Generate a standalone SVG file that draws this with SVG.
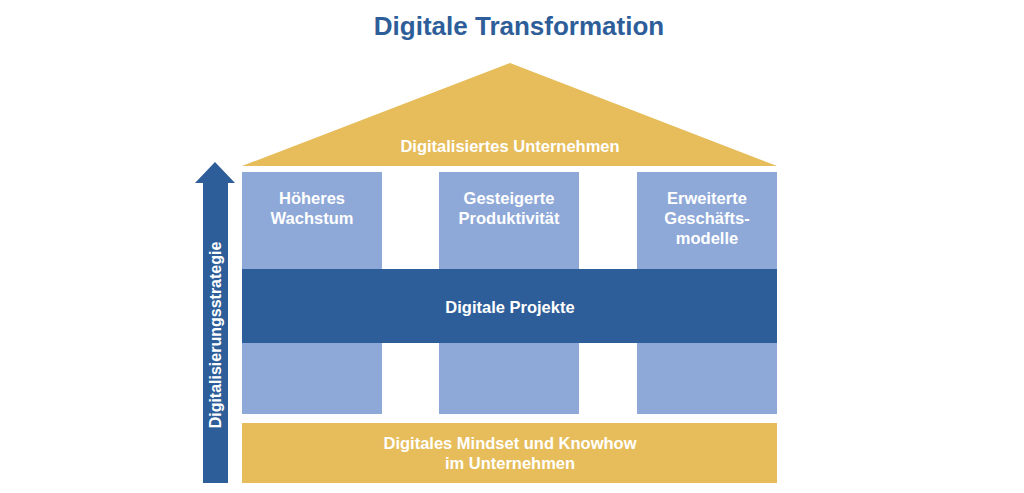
<svg xmlns="http://www.w3.org/2000/svg" width="1024" height="493" viewBox="0 0 1024 493">
<style>
.lbl{font-family:"Liberation Sans",Arial,sans-serif;font-weight:bold;font-size:16.5px;fill:#ffffff;text-anchor:middle}
.gold{fill:#e6bd5a}
.light{fill:#8ea8d8}
.dark{fill:#2e5e99}
</style>
<rect width="1024" height="493" fill="#ffffff"/>
<text x="519" y="35" font-family="Liberation Sans,Arial,sans-serif" font-weight="bold" font-size="26" fill="#2e5e99" text-anchor="middle">Digitale Transformation</text>
<g id="roof">
<polygon class="gold" points="510,63 777,166 242,166"/>
<text class="lbl" x="510" y="152">Digitalisiertes Unternehmen</text>
</g>
<g id="pillar-left">
<rect class="light" x="242" y="172" width="140" height="242"/>
<text class="lbl" x="312" y="204">Höheres</text>
<text class="lbl" x="312" y="224">Wachstum</text>
</g>
<g id="pillar-middle">
<rect class="light" x="439" y="172" width="140" height="242"/>
<text class="lbl" x="509" y="204">Gesteigerte</text>
<text class="lbl" x="509" y="224">Produktivität</text>
</g>
<g id="pillar-right">
<rect class="light" x="637" y="172" width="140" height="242"/>
<text class="lbl" x="707" y="204">Erweiterte</text>
<text class="lbl" x="707" y="224">Geschäfts-</text>
<text class="lbl" x="707" y="244">modelle</text>
</g>
<g id="projects">
<rect class="dark" x="242" y="269" width="535" height="74"/>
<text class="lbl" x="510" y="313">Digitale Projekte</text>
</g>
<g id="foundation">
<rect class="gold" x="242" y="423" width="535" height="60"/>
<text class="lbl" x="510" y="449">Digitales Mindset und Knowhow</text>
<text class="lbl" x="510" y="469">im Unternehmen</text>
</g>
<g id="connectors">
<g id="strategy-arrow">
<polygon class="dark" points="215,162 235,183 228,183 228,483 203,483 203,183 195,183"/>
<text class="lbl" transform="translate(221,335) rotate(-90)" x="0" y="0" style="font-size:16px">Digitalisierungsstrategie</text>
</g>
</g>
</svg>
